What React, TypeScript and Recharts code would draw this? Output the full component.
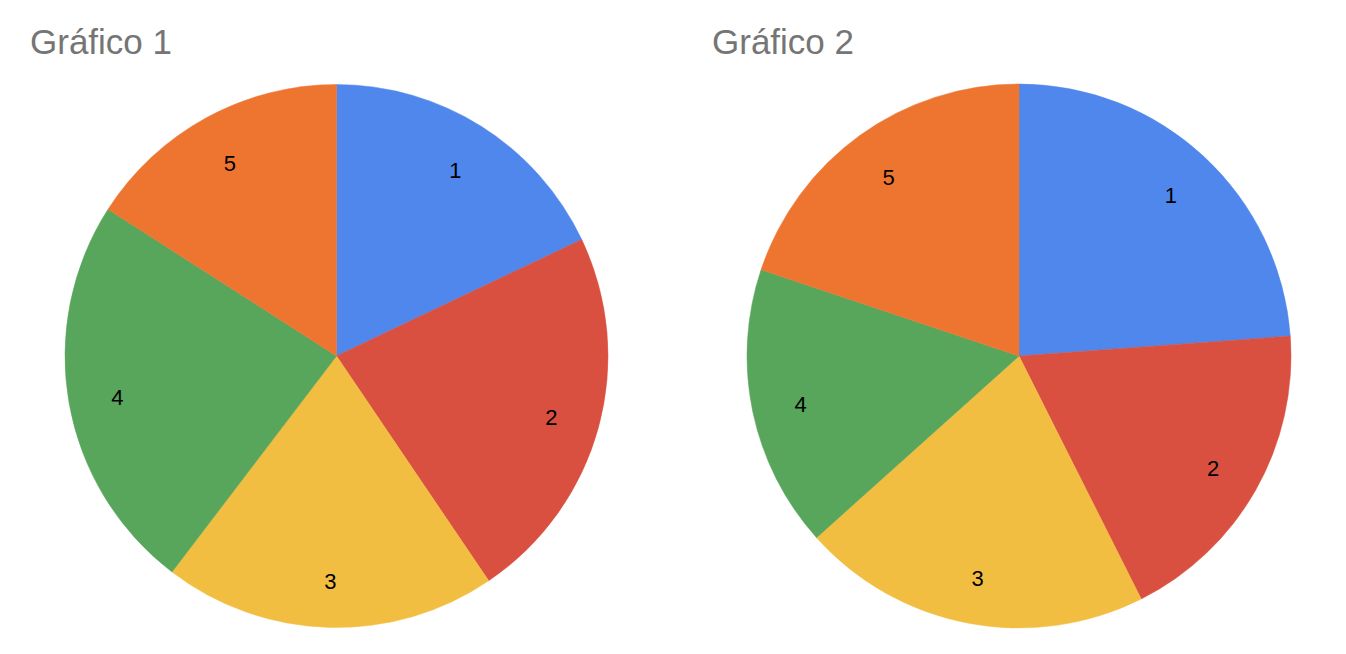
import React from "react";
import { PieChart, Pie, Cell } from "recharts";

const categories = ["1", "2", "3", "4", "5"];
const series1 = [64.6, 81.3, 71.4, 85.4, 57.3];
const series2 = [85.8, 67.5, 74.8, 60.4, 71.5];
const titles = ["Gráfico 1", "Gráfico 2"];
const colors = ["#5087EC", "#D95040", "#F2BE42", "#58A55C", "#EE7530"];

const data1 = categories.map((c, i) => ({ name: c, value: series1[i] }));
const data2 = categories.map((c, i) => ({ name: c, value: series2[i] }));

const RAD = Math.PI / 180;

const renderLabel = (props: any) => {
  const { cx, cy, midAngle, outerRadius, name } = props;
  const r = outerRadius * 0.82;
  const x = cx + r * Math.cos(-midAngle * RAD);
  const y = cy + r * Math.sin(-midAngle * RAD) + 3;
  return (
    <text
      x={x}
      y={y}
      fill="#000"
      textAnchor="middle"
      dominantBaseline="central"
      fontSize={22}
      fontFamily="'Liberation Sans', Arial, sans-serif"
    >
      {name}
    </text>
  );
};

const titleStyle = (left: number): React.CSSProperties => ({
  position: "absolute",
  left,
  top: 22,
  fontSize: 35,
  fontFamily: "'Liberation Sans', Arial, sans-serif",
  color: "#757575",
  lineHeight: "40px",
  whiteSpace: "nowrap",
});

export default function App() {
  return (
    <div
      style={{
        position: "absolute",
        left: 0,
        top: 0,
        width: 1346,
        height: 654,
        background: "#fff",
        overflow: "hidden",
      }}
    >
      <div style={{ position: "absolute", left: 0, top: 0 }}>
        <PieChart width={1346} height={654} margin={{ top: 0, right: 0, bottom: 0, left: 0 }}>
          <Pie
            data={data1}
            dataKey="value"
            nameKey="name"
            cx={336.5}
            cy={356}
            outerRadius={271.5}
            startAngle={90}
            endAngle={-270}
            label={renderLabel}
            labelLine={false}
            isAnimationActive={false}
          >
            {data1.map((d, i) => (
              <Cell key={d.name} fill={colors[i]} stroke={colors[i]} strokeWidth={0.5} />
            ))}
          </Pie>
          <Pie
            data={data2}
            dataKey="value"
            nameKey="name"
            cx={1019}
            cy={356}
            outerRadius={272}
            startAngle={90}
            endAngle={-270}
            label={renderLabel}
            labelLine={false}
            isAnimationActive={false}
          >
            {data2.map((d, i) => (
              <Cell key={d.name} fill={colors[i]} stroke={colors[i]} strokeWidth={0.5} />
            ))}
          </Pie>
        </PieChart>
      </div>
      <div style={titleStyle(30)}>{titles[0]}</div>
      <div style={titleStyle(712)}>{titles[1]}</div>
    </div>
  );
}
